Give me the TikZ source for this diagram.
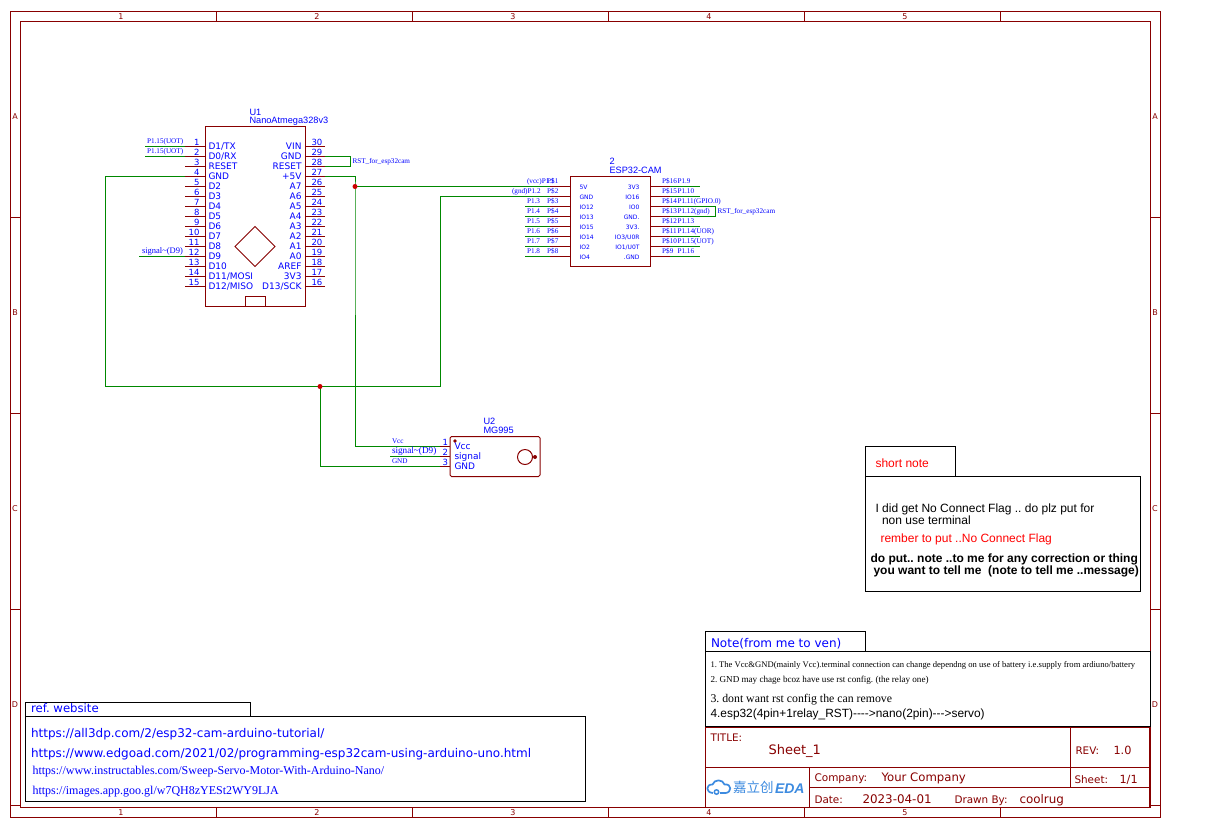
\documentclass[tikz,border=0pt]{standalone}
\usepackage{fontspec}
\newfontfamily\sansfnt{Liberation Sans}
\newfontfamily\serfnt{Liberation Serif}
\newfontfamily\vufnt{DejaVu Sans}
\newfontfamily\cjkfnt{Noto Sans CJK SC}
\newcommand{\fsz}[1]{\fontsize{#1}{#1}\selectfont}
\definecolor{sheetred}{HTML}{880000}
\definecolor{wiregreen}{HTML}{008800}
\definecolor{labelblue}{HTML}{0000FF}
\definecolor{logoblue}{HTML}{3D8BE0}
\frenchspacing
\begin{document}
\begin{tikzpicture}[
		x = 1pt,
		y = -1pt,
		line width = 1pt,
		every node/.style = {
			inner sep = 0pt,
			anchor = base west
		},
		frame/.style = {
			draw = sheetred
		},
		tick/.style = {
			font = \vufnt\fsz{8},
			text = sheetred,
			anchor = center
		},
		pin/.style = {
			draw = sheetred
		},
		wire/.style = {
			draw = wiregreen
		},
		junction/.style = {
			circle,
			fill = red!80!black,
			minimum size = 5pt,
			anchor = center
		},
		numl/.style = {
			font = \vufnt\fsz{8.5},
			text = labelblue,
			anchor = base east,
			xshift = 5pt,
			yshift = 1pt
		},
		numr/.style = {
			font = \vufnt\fsz{8.5},
			text = labelblue,
			anchor = base west,
			xshift = -4pt,
			yshift = 1pt
		},
		namel/.style = {
			font = \vufnt\fsz{9},
			text = labelblue,
			xshift = 3pt,
			yshift = -3.3pt
		},
		namer/.style = {
			font = \vufnt\fsz{9},
			text = labelblue,
			anchor = base east,
			xshift = -3pt,
			yshift = -3.3pt
		},
		inl/.style = {
			font = \vufnt\fsz{6},
			text = labelblue,
			xshift = 9pt,
			yshift = -2.6pt
		},
		inr/.style = {
			font = \vufnt\fsz{6},
			text = labelblue,
			anchor = base east,
			xshift = -10pt,
			yshift = -2.6pt
		},
		padl/.style = {
			pos = 0,
			font = \serfnt\fsz{7.2},
			text = labelblue,
			xshift = -3.3pt,
			yshift = 2.6pt
		},
		padr/.style = {
			pos = 0,
			font = \serfnt\fsz{7.2},
			text = labelblue,
			xshift = -8.3pt,
			yshift = 2.6pt
		},
		netl/.style = {
			font = \serfnt\fsz{7.2},
			text = labelblue,
			xshift = 1.5pt,
			yshift = 3.2pt
		},
		netr/.style = {
			pos = 0,
			font = \serfnt\fsz{7.2},
			text = labelblue,
			xshift = 7pt,
			yshift = 3.2pt
		},
		rst/.style = {
			font = \serfnt\fsz{7.2},
			text = labelblue,
			xshift = 2pt,
			yshift = -2.4pt
		},
		part/.style = {
			font = \sansfnt\fsz{9.2},
			text = labelblue
		},
		notebox/.style = {
			draw = black
		},
		sheettext/.style = {
			font = \vufnt\fsz{#1},
			text = sheetred
		},
		bluetext/.style = {
			font = \vufnt\fsz{#1},
			text = labelblue
		},
		bluetimes/.style = {
			font = \serfnt\fsz{#1},
			text = labelblue
		},
		blacktimes/.style = {
			font = \serfnt\fsz{#1},
			text = black
		}
	]
	\useasboundingbox (0, 0) rectangle (1214, 828);
	\fill[white] (0, 0) rectangle (1214, 828);
	\begin{scope}[yshift = -0.5pt]
		\draw[frame] (10, 11) rectangle (1160, 817);
		\draw[frame] (20, 21) rectangle (1150, 807);
		\draw[frame] (216, 11) -- +(0, 10) (412, 11) -- +(0, 10) (608, 11) -- +(0, 10) (804, 11) -- +(0, 10) (1000, 11) -- +(0, 10);
		\draw[frame] (216, 807) -- +(0, 10) (412, 807) -- +(0, 10) (608, 807) -- +(0, 10) (804, 807) -- +(0, 10) (1000, 807) -- +(0, 10);
		\draw[frame] (10, 217) -- +(10, 0) (10, 413) -- +(10, 0) (10, 609) -- +(10, 0) (10, 805) -- +(10, 0);
		\draw[frame] (1150, 217) -- +(10, 0) (1150, 413) -- +(10, 0) (1150, 609) -- +(10, 0) (1150, 805) -- +(10, 0);
		\node[tick] (top1) at (121, 16) {1};
		\node[tick] (top2) at (317, 16) {2};
		\node[tick] (top3) at (513, 16) {3};
		\node[tick] (top4) at (709, 16) {4};
		\node[tick] (top5) at (905, 16) {5};
		\node[tick] (bot1) at (121, 812.5) {1};
		\node[tick] (bot2) at (317, 812.5) {2};
		\node[tick] (bot3) at (513, 812.5) {3};
		\node[tick] (bot4) at (709, 812.5) {4};
		\node[tick] (bot5) at (905, 812.5) {5};
		\node[tick] (lefta) at (15, 116) {A};
		\node[tick] (leftb) at (15, 312) {B};
		\node[tick] (leftc) at (15, 508) {C};
		\node[tick] (leftd) at (15, 704) {D};
		\node[tick] (righta) at (1155, 116) {A};
		\node[tick] (rightb) at (1155, 312) {B};
		\node[tick] (rightc) at (1155, 508) {C};
		\node[tick] (rightd) at (1155, 704) {D};

		\draw[frame] (205, 126) rectangle (305, 306);
		\draw[frame] (245, 296) rectangle (265, 306);
		\draw[frame] (255, 226) -- (275, 246) -- (255, 266) -- (235, 246) -- cycle;
		\node[part] (u1ref) at (249, 115) {U1};
		\node[part] (u1val) at (249, 123) {NanoAtmega328v3};
		\draw[pin] (185, 146) coordinate (u1p1) -- node[numl] (u1n1) {1} +(20, 0) node[namel] (u1t1) {D1/TX};
		\draw[pin] (185, 156) coordinate (u1p2) -- node[numl] (u1n2) {2} +(20, 0) node[namel] (u1t2) {D0/RX};
		\draw[pin] (185, 166) coordinate (u1p3) -- node[numl] (u1n3) {3} +(20, 0) node[namel] (u1t3) {RESET};
		\draw[pin] (185, 176) coordinate (u1p4) -- node[numl] (u1n4) {4} +(20, 0) node[namel] (u1t4) {GND};
		\draw[pin] (185, 186) coordinate (u1p5) -- node[numl] (u1n5) {5} +(20, 0) node[namel] (u1t5) {D2};
		\draw[pin] (185, 196) coordinate (u1p6) -- node[numl] (u1n6) {6} +(20, 0) node[namel] (u1t6) {D3};
		\draw[pin] (185, 206) coordinate (u1p7) -- node[numl] (u1n7) {7} +(20, 0) node[namel] (u1t7) {D4};
		\draw[pin] (185, 216) coordinate (u1p8) -- node[numl] (u1n8) {8} +(20, 0) node[namel] (u1t8) {D5};
		\draw[pin] (185, 226) coordinate (u1p9) -- node[numl] (u1n9) {9} +(20, 0) node[namel] (u1t9) {D6};
		\draw[pin] (185, 236) coordinate (u1p10) -- node[numl] (u1n10) {10} +(20, 0) node[namel] (u1t10) {D7};
		\draw[pin] (185, 246) coordinate (u1p11) -- node[numl] (u1n11) {11} +(20, 0) node[namel] (u1t11) {D8};
		\draw[pin] (185, 256) coordinate (u1p12) -- node[numl] (u1n12) {12} +(20, 0) node[namel] (u1t12) {D9};
		\draw[pin] (185, 266) coordinate (u1p13) -- node[numl] (u1n13) {13} +(20, 0) node[namel] (u1t13) {D10};
		\draw[pin] (185, 276) coordinate (u1p14) -- node[numl] (u1n14) {14} +(20, 0) node[namel] (u1t14) {D11/MOSI};
		\draw[pin] (185, 286) coordinate (u1p15) -- node[numl] (u1n15) {15} +(20, 0) node[namel] (u1t15) {D12/MISO};
		\draw[pin] (325, 146) coordinate (u1p30) -- node[numr] (u1n30) {30} +(-20, 0) node[namer] (u1t30) {VIN};
		\draw[pin] (325, 156) coordinate (u1p29) -- node[numr] (u1n29) {29} +(-20, 0) node[namer] (u1t29) {GND};
		\draw[pin] (325, 166) coordinate (u1p28) -- node[numr] (u1n28) {28} +(-20, 0) node[namer] (u1t28) {RESET};
		\draw[pin] (325, 176) coordinate (u1p27) -- node[numr] (u1n27) {27} +(-20, 0) node[namer] (u1t27) {+5V};
		\draw[pin] (325, 186) coordinate (u1p26) -- node[numr] (u1n26) {26} +(-20, 0) node[namer] (u1t26) {A7};
		\draw[pin] (325, 196) coordinate (u1p25) -- node[numr] (u1n25) {25} +(-20, 0) node[namer] (u1t25) {A6};
		\draw[pin] (325, 206) coordinate (u1p24) -- node[numr] (u1n24) {24} +(-20, 0) node[namer] (u1t24) {A5};
		\draw[pin] (325, 216) coordinate (u1p23) -- node[numr] (u1n23) {23} +(-20, 0) node[namer] (u1t23) {A4};
		\draw[pin] (325, 226) coordinate (u1p22) -- node[numr] (u1n22) {22} +(-20, 0) node[namer] (u1t22) {A3};
		\draw[pin] (325, 236) coordinate (u1p21) -- node[numr] (u1n21) {21} +(-20, 0) node[namer] (u1t21) {A2};
		\draw[pin] (325, 246) coordinate (u1p20) -- node[numr] (u1n20) {20} +(-20, 0) node[namer] (u1t20) {A1};
		\draw[pin] (325, 256) coordinate (u1p19) -- node[numr] (u1n19) {19} +(-20, 0) node[namer] (u1t19) {A0};
		\draw[pin] (325, 266) coordinate (u1p18) -- node[numr] (u1n18) {18} +(-20, 0) node[namer] (u1t18) {AREF};
		\draw[pin] (325, 276) coordinate (u1p17) -- node[numr] (u1n17) {17} +(-20, 0) node[namer] (u1t17) {3V3};
		\draw[pin] (325, 286) coordinate (u1p16) -- node[numr] (u1n16) {16} +(-20, 0) node[namer] (u1t16) {D13/SCK};

		\draw[frame] (570, 176) rectangle (650, 266);
		\node[part] (espref) at (609, 164) {2};
		\node[part] (espval) at (609, 173) {ESP32-CAM};
		\draw[pin] (550, 186) coordinate (e1) -- node[padl] (ep1) {P\$1} +(20, 0) node[inl] (et1) {5V};
		\draw[pin] (550, 196) coordinate (e2) -- node[padl] (ep2) {P\$2} +(20, 0) node[inl] (et2) {GND};
		\draw[pin] (550, 206) coordinate (e3) -- node[padl] (ep3) {P\$3} +(20, 0) node[inl] (et3) {IO12};
		\draw[pin] (550, 216) coordinate (e4) -- node[padl] (ep4) {P\$4} +(20, 0) node[inl] (et4) {IO13};
		\draw[pin] (550, 226) coordinate (e5) -- node[padl] (ep5) {P\$5} +(20, 0) node[inl] (et5) {IO15};
		\draw[pin] (550, 236) coordinate (e6) -- node[padl] (ep6) {P\$6} +(20, 0) node[inl] (et6) {IO14};
		\draw[pin] (550, 246) coordinate (e7) -- node[padl] (ep7) {P\$7} +(20, 0) node[inl] (et7) {IO2};
		\draw[pin] (550, 256) coordinate (e8) -- node[padl] (ep8) {P\$8} +(20, 0) node[inl] (et8) {IO4};
		\draw[pin] (670, 186) coordinate (e16) -- node[padr] (ep16) {P\$16} +(-20, 0) node[inr] (et16) {3V3};
		\draw[pin] (670, 196) coordinate (e15) -- node[padr] (ep15) {P\$15} +(-20, 0) node[inr] (et15) {IO16};
		\draw[pin] (670, 206) coordinate (e14) -- node[padr] (ep14) {P\$14} +(-20, 0) node[inr] (et14) {IO0};
		\draw[pin] (670, 216) coordinate (e13) -- node[padr] (ep13) {P\$13} +(-20, 0) node[inr] (et13) {GND.};
		\draw[pin] (670, 226) coordinate (e12) -- node[padr] (ep12) {P\$12} +(-20, 0) node[inr] (et12) {3V3.};
		\draw[pin] (670, 236) coordinate (e11) -- node[padr] (ep11) {P\$11} +(-20, 0) node[inr] (et11) {IO3/U0R};
		\draw[pin] (670, 246) coordinate (e10) -- node[padr] (ep10) {P\$10} +(-20, 0) node[inr] (et10) {IO1/U0T};
		\draw[pin] (670, 256) coordinate (e9) -- node[padr] (ep9) {P\$9} +(-20, 0) node[inr] (et9) {.GND};

		\draw[frame, rounded corners = 1.5pt] (450, 436) rectangle (540, 476);
		\fill[sheetred] (455, 440.5) circle (1.8);
		\draw[frame] (525, 456.5) circle (7.5);
		\fill[sheetred] (535, 456.5) circle (2);
		\node[part] (u2ref) at (483, 424) {U2};
		\node[part] (u2val) at (483, 433) {MG995};
		\draw[pin] (440, 446) coordinate (u2p1) -- node[numl, xshift = -1.5pt] (u2n1) {1} +(10, 0) node[namel, xshift = 1pt] (u2t1) {Vcc};
		\draw[pin] (440, 456) coordinate (u2p2) -- node[numl, xshift = -1.5pt] (u2n2) {2} +(10, 0) node[namel, xshift = 1pt] (u2t2) {signal};
		\draw[pin] (440, 466) coordinate (u2p3) -- node[numl, xshift = -1.5pt] (u2n3) {3} +(10, 0) node[namel, xshift = 1pt] (u2t3) {GND};

		\coordinate (j1) at (355, 186);
		\coordinate (j2) at (320, 386);
		\draw[wire] (u1p4) -- ++(-80, 0) |- (j2);
		\draw[wire] (j2) -- ++(120, 0) |- (e2) node[netl, xshift = -40pt] (l2) {(gnd)P1.2};
		\draw[wire] (j2) |- (u2p3);
		\draw[wire] (u1p27) -| (j1) |- (u2p1);
		\draw[wire] (j1) -- (e1) node[netl, xshift = -25pt] (l1) {(vcc)P1.1};
		\draw[wire] (u1p29) -- ++(25, 0) -- node[rst] (u1rst) {RST\_for\_esp32cam} ++(0, 10) -- (u1p28);
		\draw[wire] (e14) -- node[netr] (l11) {P1.11(GPIO.0)} ++(45, 0) -- node[rst] (ersts) {RST\_for\_esp32cam} ++(0, 10) -- node[netr, pos = 1] (l12) {P1.12(gnd)} (e13);
		\node[junction] (d1) at (j1) {};
		\node[junction] (d2) at (j2) {};
		\draw[wire] (u1p1) -- +(-40, 0) node[netl] (s1) {P1.15(UOT)};
		\draw[wire] (u1p2) -- +(-40, 0) node[netl] (s2) {P1.15(UOT)};
		\draw[wire] (u1p12) -- +(-46, 0) node[netl, font = \serfnt\fsz{8.5}, xshift = 1pt] (s12) {signal\textasciitilde(D9)};
		\draw[wire] (u2p2) -- +(-50, 0) node[netl, font = \serfnt\fsz{9.2}] (s21) {signal\textasciitilde(D9)};
		\node[netl] (s20) at (390, 446) {Vcc};
		\node[netl] (s22) at (390, 466) {GND};
		\draw[wire] (e3) -- +(-25, 0) node[netl] (l3) {P1.3};
		\draw[wire] (e4) -- +(-25, 0) node[netl] (l4) {P1.4};
		\draw[wire] (e5) -- +(-25, 0) node[netl] (l5) {P1.5};
		\draw[wire] (e6) -- +(-25, 0) node[netl] (l6) {P1.6};
		\draw[wire] (e7) -- +(-25, 0) node[netl] (l7) {P1.7};
		\draw[wire] (e8) -- +(-25, 0) node[netl] (l8) {P1.8};
		\draw[wire] (e16) -- node[netr] (l9) {P1.9} +(30, 0);
		\draw[wire] (e15) -- node[netr] (l10) {P1.10} +(30, 0);
		\draw[wire] (e12) -- node[netr] (l13) {P1.13} +(30, 0);
		\draw[wire] (e11) -- node[netr] (l14) {P1.14(UOR)} +(30, 0);
		\draw[wire] (e10) -- node[netr] (l15) {P1.15(UOT)} +(30, 0);
		\draw[wire] (e9) -- node[netr] (l16) {P1.16} +(30, 0);

		\draw[notebox] (865, 446) rectangle (955, 476);
		\draw[notebox] (865, 476) rectangle (1140, 591);
		\node[font = \sansfnt\fsz{12}, text = red] (shorthead) at (875, 467) {short note};
		\node[font = \sansfnt\fsz{12}, text = black] (short1) at (875, 512) {I did get No Connect Flag .. do plz put for};
		\node[font = \sansfnt\fsz{12}, text = black] (short2) at (881.5, 524) {non use terminal};
		\node[font = \sansfnt\fsz{12}, text = red] (short3) at (880, 542) {rember to put ..No Connect Flag};
		\node[font = \sansfnt\bfseries\fsz{12}, text = black] (short4) at (870, 562) {do put.. note ..to me for any correction or thing};
		\node[font = \sansfnt\bfseries\fsz{12}, text = black] (short5) at (873, 574) {you want to tell me\ \ (note to tell me ..message)};

		\draw[notebox] (705, 631) rectangle (865, 651);
		\draw[notebox] (705, 651) rectangle (1150, 726);
		\node[bluetext = 12] (notehead) at (710.5, 647) {Note(from me to ven)};
		\node[blacktimes = 8.6] (note1) at (710, 667) {1. The Vcc\&GND(mainly Vcc).terminal connection can change dependng on use of battery i.e.supply from ardiuno/battery};
		\node[blacktimes = 9.1] (note2) at (710, 682) {2. GND may chage bcoz have use rst config. (the relay one)};
		\node[blacktimes = 11.8] (note3) at (710, 701.5) {3. dont want rst config the can remove};
		\node[font = \sansfnt\fsz{11.9}, text = black] (note4) at (710, 717) {4.esp32(4pin+1relay\_RST)----\textgreater nano(2pin)---\textgreater servo)};

		\draw[notebox] (25, 702) rectangle (250, 716);
		\draw[notebox] (25, 716) rectangle (585, 801);
		\node[bluetext = 11.7] (refhead) at (30.5, 712) {ref. website};
		\node[bluetext = 12] (ref1) at (30.5, 737) {https://all3dp.com/2/esp32-cam-arduino-tutorial/};
		\node[bluetext = 12] (ref2) at (30.5, 757) {https://www.edgoad.com/2021/02/programming-esp32cam-using-arduino-uno.html};
		\node[bluetimes = 12] (ref3) at (32, 774) {https://www.instructables.com/Sweep-Servo-Motor-With-Arduino-Nano/};
		\node[bluetimes = 12] (ref4) at (32, 794) {https://images.app.goo.gl/w7QH8zYESt2WY9LJA};

		\draw[frame] (705, 727) rectangle (1149, 807);
		\draw[frame] (705, 767) -- (1149, 767);
		\draw[frame] (809, 787) -- (1149, 787);
		\draw[frame] (809, 767) -- (809, 807);
		\draw[frame] (1070, 727) -- (1070, 787);
		\node[sheettext = 10.4] (tbtitle) at (710, 741) {TITLE:};
		\node[sheettext = 13] (tbsheet) at (768, 754) {Sheet\_1};
		\node[sheettext = 10.4] (tbrev) at (1075, 754) {REV:};
		\node[sheettext = 11.3] (tbrevno) at (1113, 754) {1.0};
		\node[sheettext = 10.5] (tbcomp) at (814, 781) {Company:};
		\node[sheettext = 11.7] (tbcompname) at (881, 781) {Your Company};
		\node[sheettext = 10.4] (tbsh) at (1074, 783) {Sheet:};
		\node[sheettext = 11.3] (tbshno) at (1119, 783) {1/1};
		\node[sheettext = 10.4] (tbdate) at (814, 803) {Date:};
		\node[sheettext = 11.9] (tbdateval) at (862, 803) {2023-04-01};
		\node[sheettext = 10.4] (tbdrawn) at (954, 803) {Drawn By:};
		\node[sheettext = 11.9] (tbdrawnval) at (1019, 803) {coolrug};
		\draw[logoblue, line width = 1.7pt, line join = round] (713, 792.5) .. controls (705, 792) and (706, 783.5) .. (712.5, 784) .. controls (714, 778.5) and (723, 778.5) .. (724.5, 784) .. controls (732, 783) and (732, 792) .. (725.5, 792.5) -- (720, 792.5);
		\draw[logoblue, line width = 1.5pt] (716.5, 791.5) circle (2.2);
		\node[font = \cjkfnt\fsz{13.5}, text = logoblue] (logocn) at (732.5, 792) {嘉立创};
		\node[font = \sansfnt\bfseries\itshape\fsz{14}, text = logoblue] (logoen) at (774.5, 792.5) {EDA};
	\end{scope}
\end{tikzpicture}
\end{document}
